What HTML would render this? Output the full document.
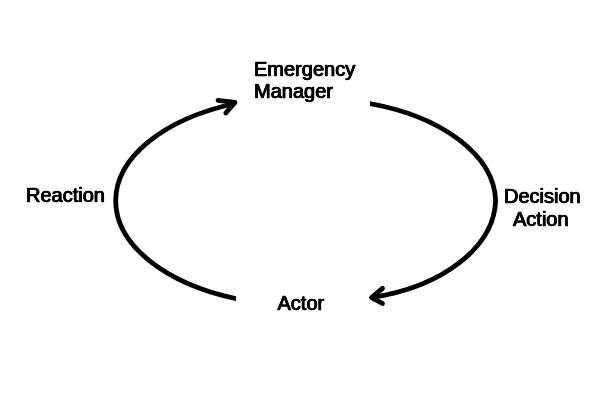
<!DOCTYPE html>
<html>
<head>
<meta charset="utf-8">
<title>Emergency cycle</title>
<style>
html,body{margin:0;padding:0;background:#fff;}
body{width:600px;height:400px;overflow:hidden;position:relative;}
svg{display:block;position:absolute;left:0;top:0;}
.t{position:absolute;margin:0;white-space:nowrap;font-family:"Liberation Sans",Arial,Helvetica,sans-serif;font-size:20px;line-height:24px;height:24px;color:#000;
   transform-origin:0 18.93px;transform:scaleY(1.03);
   filter:grayscale(1);
   -webkit-text-stroke:0.45px #000;text-shadow:0.5px 0 0 #000,-0.5px 0 0 #000;}
.arc{fill:none;stroke:#000;stroke-width:4.8;stroke-linecap:butt;}
.head{fill:none;stroke:#000;stroke-width:4.8;stroke-linecap:round;stroke-linejoin:round;}
</style>
</head>
<body>
<svg width="600" height="400" viewBox="0 0 600 400">
  <rect width="600" height="400" fill="#fff"/>
  <defs>
    <clipPath id="cl"><rect x="0" y="0" width="235.9" height="400"/></clipPath>
    <clipPath id="cr"><rect x="370" y="0" width="230" height="400"/></clipPath>
  </defs>
  <!-- left arc: Actor -> Emergency Manager -->
  <path class="arc" clip-path="url(#cl)" d="M239.00 299.23 A187.97 104.95 0 0 1 115.70 200.69 A187.97 104.43 0 0 1 235.00 103.48"/>
  <path class="head" d="M218 100.3 L235.0 102.4 L225.8 113.0"/>
  <!-- right arc: Emergency Manager -> Actor -->
  <path class="arc" clip-path="url(#cr)" d="M367.00 103.04 A179.14 103.64 0 0 1 495.65 200.5 A161.32 102.03 0 0 1 371.5 297.56"/>
  <path class="head" d="M382.5 288.4 L371.5 297.56 L382.5 303.5"/>
</svg>
<div class="t" style="left:254px;top:56.72px">Emergency</div>
<div class="t" style="left:254px;top:79.3px">Manager</div>
<div class="t" style="left:26px;top:182.72px">Reaction</div>
<div class="t" style="left:504px;top:183.72px">Decision</div>
<div class="t" style="left:513px;top:206.55px">Action</div>
<div class="t" style="left:277.5px;top:290.72px">Actor</div>
</body>
</html>
